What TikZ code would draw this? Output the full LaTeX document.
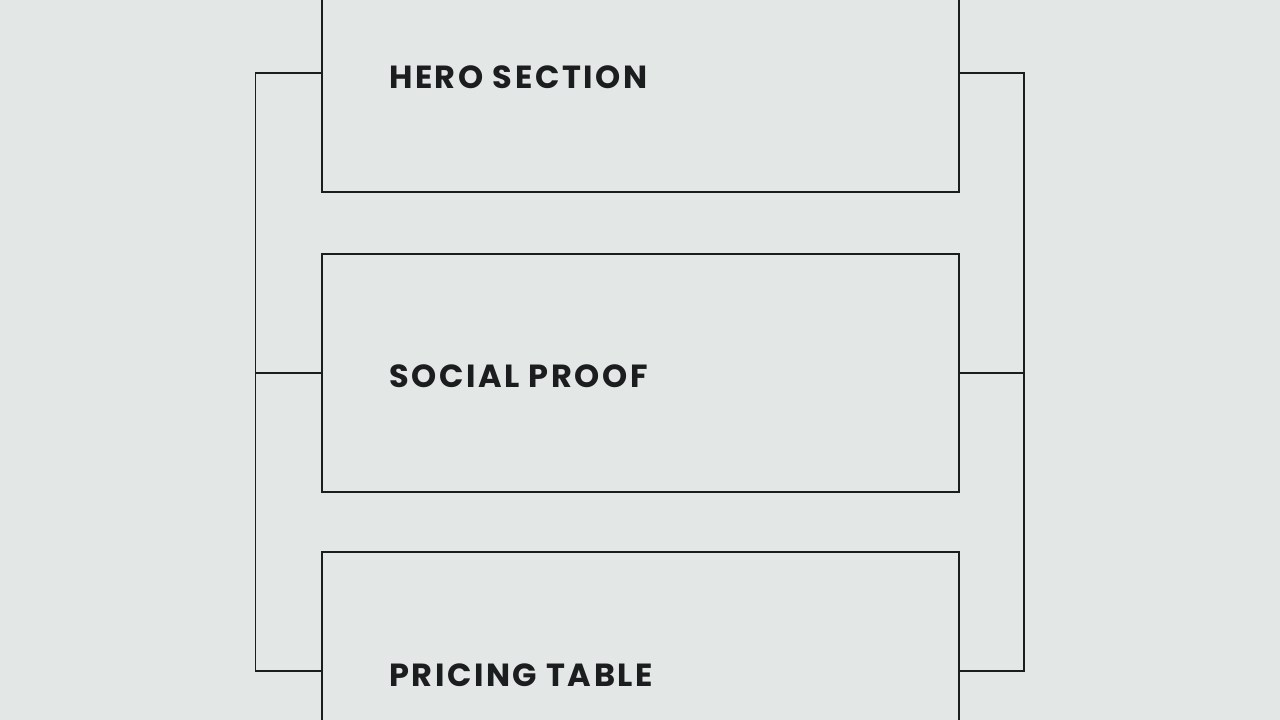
\documentclass[tikz,border=0pt]{standalone}
\usepackage{fontspec}
\setmainfont{Poppins}[LetterSpace=8]
\definecolor{paper}{HTML}{E3E7E6}
\definecolor{ink}{HTML}{1C1D1E}
\begin{document}
\begin{tikzpicture}[x=1pt, y=-1pt,
    section/.style={draw=ink, line width=1.5pt, minimum width=637pt, minimum height=238pt, inner sep=0pt},
    caption/.style={anchor=base west, inner sep=0pt, text=ink, font=\fontsize{32}{36}\selectfont\bfseries},
    bracket/.style={draw=ink, line width=1.5pt}]
    \fill[paper] (0, 0) rectangle (1280, 720);
    \useasboundingbox (0, 0) rectangle (1280, 720);
    \node[section] (hero) at (640.5, 73) {};
    \node[section] (proof) at (640.5, 373) {};
    \node[section] (pricing) at (640.5, 671) {};
    \node[caption] (herotext) at (389, 88) {HERO SECTION};
    \node[caption] (prooftext) at (389, 387) {SOCIAL PROOF};
    \node[caption] (pricingtext) at (389, 686) {PRICING TABLE};
    \draw[bracket] (hero.west) -- ++(-66, 0) |- (pricing.west);
    \draw[bracket] (proof.west) -- ++(-66, 0);
    \draw[bracket] (hero.east) -- ++(64, 0) |- (pricing.east);
    \draw[bracket] (proof.east) -- ++(64, 0);
\end{tikzpicture}
\end{document}
